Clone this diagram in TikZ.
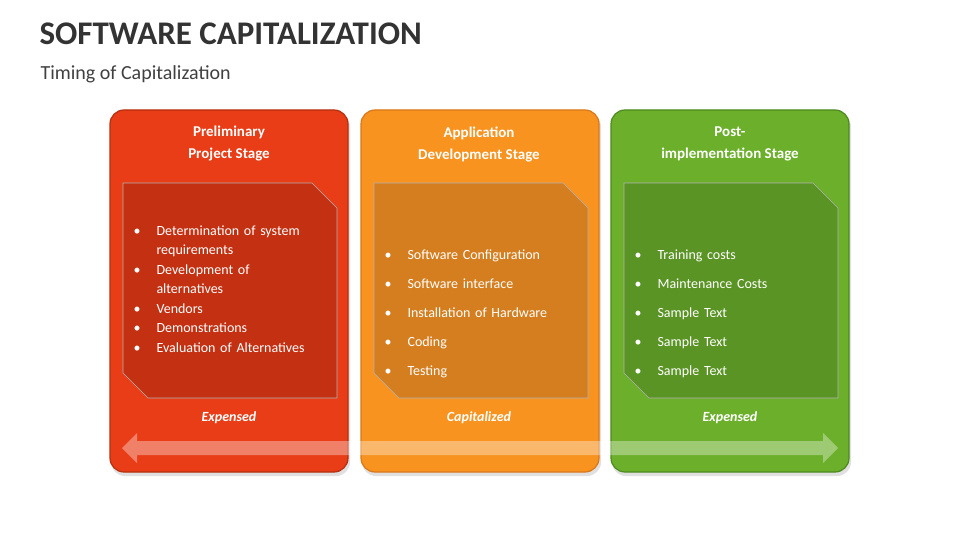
\documentclass[tikz,border=0pt]{standalone}
\usepackage{fontspec}
\setmainfont{Carlito}
\begin{document}
\begin{tikzpicture}[x=1pt,y=-1pt,
 card/.style={rounded corners=14pt,line width=1.2pt},
 inner/.style={draw=white!70!black,line width=0.6pt},
 head/.style={font=\bfseries\fontsize{15}{22}\selectfont,text=white,align=center},
 lbl/.style={font=\bfseries\itshape\fontsize{14}{16}\selectfont,text=white},
 blist/.style={font=\fontsize{14}{19.5}\selectfont,text=white,align=left,text width=180pt,anchor=north west}]
\definecolor{rA}{HTML}{E83D17}\definecolor{rB}{HTML}{C43012}\definecolor{rD}{HTML}{B5300F}
\definecolor{oA}{HTML}{F8931F}\definecolor{oB}{HTML}{D57E1F}\definecolor{oD}{HTML}{D9781A}
\definecolor{gA}{HTML}{6BAF2A}\definecolor{gB}{HTML}{5A9424}\definecolor{gD}{HTML}{4E8A1F}
\fill[white] (0,0) rectangle (960,540);
\useasboundingbox (0,0) rectangle (960,540);
\node[anchor=west,font=\bfseries\fontsize{33}{36}\selectfont,text=black!80] (title) at (36,34) {SOFTWARE CAPITALIZATION};
\node[anchor=west,font=\fontsize{20}{24}\selectfont,text=black!75] (sub) at (37,74) {Timing of Capitalization};
\foreach \x/\a/\b/\d [count=\i] in {110/rA/rB/rD,361/oA/oB/oD,611/gA/gB/gD}{
 \fill[black!12,rounded corners=14pt] (\x+1,113) rectangle (\x+240,476);
 \filldraw[card,fill=\a,draw=\d] (\x,110) rectangle (\x+238,472);
 \filldraw[inner,fill=\b] (\x+13,183) -- (\x+202,183) -- (\x+227,208) -- (\x+227,398) -- (\x+38,398) -- (\x+13,373) -- cycle;
}
\node[head] (h1) at (229,144) {Preliminary\\Project Stage};
\node[head] (h2) at (479,144) {Application\\Development Stage};
\node[head] (h3) at (730,144) {Post-\\implementation Stage};
\node[blist] (l1) at (127,212) {\begin{list}{\textbullet}{\leftmargin=26pt\labelwidth=10pt\labelsep=16pt\itemsep=0pt\parsep=0pt\topsep=0pt}
\item Determination of system requirements
\item Development of alternatives
\item Vendors
\item Demonstrations
\item Evaluation of Alternatives\end{list}};
\node[blist,font=\fontsize{14}{29}\selectfont] (l2) at (378,227) {\begin{list}{\textbullet}{\leftmargin=26pt\labelwidth=10pt\labelsep=16pt\itemsep=0pt\parsep=0pt\topsep=0pt}
\item Software Configuration
\item Software interface
\item Installation of Hardware
\item Coding
\item Testing\end{list}};
\node[blist,font=\fontsize{14}{29}\selectfont] (l3) at (628,227) {\begin{list}{\textbullet}{\leftmargin=26pt\labelwidth=10pt\labelsep=16pt\itemsep=0pt\parsep=0pt\topsep=0pt}
\item Training costs
\item Maintenance Costs
\item Sample Text
\item Sample Text
\item Sample Text\end{list}};
\node[lbl] (e1) at (229,418) {Expensed};
\node[lbl] (e2) at (479,418) {Capitalized};
\node[lbl] (e3) at (730,418) {Expensed};
\coordinate (aL) at (122,448); \coordinate (aR) at (838,448);
\fill[white,opacity=0.35] (aL) -- (137,433) -- (137,441) -- (823,441) -- (823,433) -- (aR) -- (823,463) -- (823,455) -- (137,455) -- (137,463) -- cycle;
\end{tikzpicture}
\end{document}
